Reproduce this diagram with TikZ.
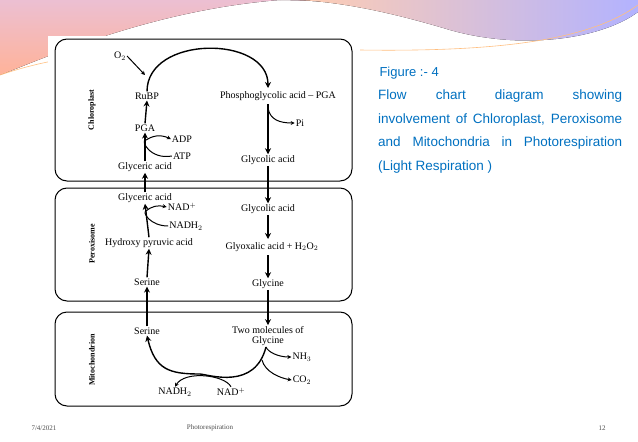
\documentclass[tikz,border=0pt]{standalone}
\usepackage{fontspec}
\setmainfont{Liberation Serif}
\newfontfamily\sans{Liberation Sans}
\usetikzlibrary{arrows.meta}
\definecolor{ftblue}{RGB}{0,112,192}
\begin{document}
\begin{tikzpicture}[x=1pt,y=-1pt,
  lab/.style={font=\fontsize{10}{10}\selectfont, inner sep=1pt},
  side/.style={font=\bfseries\fontsize{8}{8}\selectfont, rotate=90},
  comp/.style={draw, line width=1pt, rounded corners=12pt},
  ar/.style={-{Stealth[length=6pt,width=6pt]}, line width=1.4pt},
  sar/.style={-{Stealth[length=4pt,width=4pt]}, line width=1pt},
  foot/.style={font=\fontsize{7}{8}\selectfont, text=black!70}]
\useasboundingbox (0,0) rectangle (638,442);
% background swoosh
\fill[top color=blue!30!red!25, bottom color=red!50!orange!40] (0,0) -- (280,0) .. controls (150,10) and (40,60) .. (0,75) -- cycle;
\fill[left color=blue!25!red!25, right color=red!30!orange!30] (280,0) .. controls (380,2) and (420,12) .. (470,25) .. controls (560,45) and (610,30) .. (638,0) -- cycle;
\fill[left color=red!30!orange!30, right color=blue!30] (300,0) -- (638,0) -- (638,12) .. controls (600,40) and (520,50) .. (450,30) .. controls (400,15) and (350,3) .. (300,0) -- cycle;
\draw[orange!50, line width=0.6pt] (0,75) .. controls (60,55) and (120,45) .. (360,50) .. controls (500,52) and (590,40) .. (638,5);
\fill[white] (48,36) rectangle (360,412);
% compartments
\draw[comp] (55,39) rectangle (352,181);
\draw[comp] (55,188) rectangle (352,301);
\draw[comp] (55,312) rectangle (352,406);
\node[side] (cl) at (92,110) {Chloroplast};
\node[side] (px) at (92,244) {Peroxisome};
\node[side] (mi) at (92,360) {Mitochondrion};
% chloroplast
\node[lab] (o2) at (120,56) {O$_2$};
\node[lab] (rubp) at (147,96) {RuBP};
\node[lab] (pga1) at (278,96) {Phosphoglycolic acid -- PGA};
\node[lab] (pi) at (300,123) {Pi};
\node[lab] (pga) at (145,128) {PGA};
\node[lab] (adp) at (182,139) {ADP};
\node[lab] (atp) at (182,156) {ATP};
\node[lab] (gly1) at (145,167) {Glyceric acid};
\node[lab] (gla1) at (268,160) {Glycolic acid};
\draw[ar] (rubp.north) .. controls (147,35) and (268,35) .. (268,88);
\draw[sar] (o2.east) -- (145,75);
\draw[ar] (pga.north) -- (rubp.south);
\draw[ar] (gly1.north) -- (pga.south);
\draw[line width=1pt] (atp.west) .. controls (150,160) and (140,140) .. (146,140);
\draw[sar] (146,140) .. controls (152,136) and (160,134) .. (adp.west);
\draw[ar] (268,104) -- (gla1.north);
\draw[sar] (268,108) .. controls (270,120) and (280,123) .. (pi.west);
% peroxisome
\node[lab] (gly2) at (145,198) {Glyceric acid};
\node[lab] (nad1) at (182,207) {NAD$^+$};
\node[lab] (nadh1) at (186,226) {NADH$_2$};
\node[lab] (hpa) at (149,243) {Hydroxy pyruvic acid};
\node[lab] (gla2) at (268,209) {Glycolic acid};
\node[lab] (glx) at (272,247) {Glyoxalic acid + H$_2$O$_2$};
\node[lab] (ser1) at (147,282) {Serine};
\node[lab] (gln1) at (268,284) {Glycine};
\draw[ar] (gly2.north) -- (gly1.south);
\draw[ar] (gla1.south) -- (gla2.north);
\draw[ar] (hpa.north) -- (gly2.south);
\draw[line width=1pt] (nadh1.west) .. controls (150,226) and (142,212) .. (146,211);
\draw[sar] (146,211) .. controls (152,206) and (158,205) .. (nad1.west);
\draw[ar] (gla2.south) -- (268,239);
\draw[ar] (268,255) -- (gln1.north);
\draw[ar] (ser1.north) -- (hpa.south);
% mitochondrion
\node[lab] (ser2) at (147,331) {Serine};
\node[lab, align=center] (two) at (268,336) {Two molecules of\\Glycine};
\node[lab] (nh3) at (302,357) {NH$_3$};
\node[lab] (co2) at (302,380) {CO$_2$};
\node[lab] (nadh2) at (175,392) {NADH$_2$};
\node[lab] (nad2) at (231,392) {NAD$^+$};
\draw[ar] (gln1.south) -- (two.north);
\draw[ar] (ser2.north) -- (ser1.south);
\draw[ar] (266,347) .. controls (255,390) and (210,375) .. (200,374) .. controls (170,374) and (155,370) .. (ser2.south);
\draw[sar] (266,347) .. controls (268,352) and (278,357) .. (nh3.west);
\draw[sar] (262,360) .. controls (265,372) and (280,378) .. (co2.west);
\draw[sar] (nad2.north) .. controls (225,375) and (185,370) .. (nadh2.north);
% right text
\node[anchor=west, font=\sans\fontsize{13}{14}\selectfont, text=ftblue] (fig) at (376,73) {Figure :- 4};
\node[anchor=north west, font=\sans\fontsize{13.5}{23.5}\selectfont, text=ftblue, text width=244pt, align=justify, inner sep=0pt] (desc) at (378,90) {Flow chart diagram showing\linebreak involvement of Chloroplast, Peroxisome\linebreak and Mitochondria in Photorespiration\linebreak (Light Respiration )};
% footer
\node[foot, anchor=west] (date) at (28,428) {7/4/2021};
\node[foot] (title) at (210,428) {Photorespiration};
\node[foot] (num) at (602,428) {12};
\end{tikzpicture}
\end{document}
